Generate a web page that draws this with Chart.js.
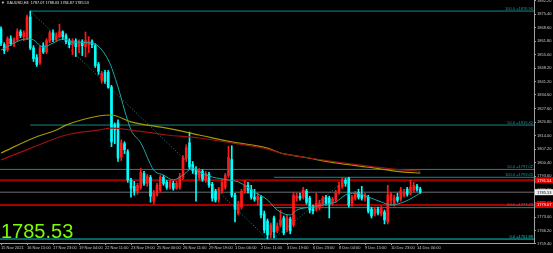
<!DOCTYPE html>
<html><head><meta charset="utf-8">
<script src="https://cdn.jsdelivr.net/npm/chart.js@4.4.0/dist/chart.umd.min.js"></script>
<style>html,body{margin:0;padding:0;background:#000;overflow:hidden}canvas{display:block}</style>
</head><body>
<canvas id="c" width="553" height="253"></canvas>
<script>
const symbolName = "XAUUSD,H4";
const opens = [1867.9,1860.0,1857.5,1863.0,1860.5,1862.5,1866.5,1864.0,1863.0,1874.0,
1858.3,1853.5,1851.0,1859.5,1856.3,1862.0,1866.0,1862.5,1864.0,1866.5,
1864.5,1862.0,1860.0,1862.0,1859.0,1861.5,1859.0,1860.0,1861.5,1859.5,
1850.0,1842.0,1846.0,1846.0,1838.6,1819.5,1820.5,1803.3,1810.0,1806.0,
1791.7,1788.5,1786.0,1788.0,1795.0,1790.0,1793.0,1781.0,1784.5,1786.5,
1793.0,1790.5,1788.0,1790.0,1787.5,1788.0,1793.0,1802.5,1810.4,1799.5,
1797.0,1793.0,1796.0,1791.5,1794.5,1789.5,1786.0,1782.0,1786.0,1788.0,
1794.0,1802.0,1784.0,1775.0,1778.0,1786.0,1789.0,1787.0,1783.0,1781.5,
1783.0,1774.5,1771.0,1764.0,1772.5,1766.0,1769.0,1772.5,1766.5,1772.0,
1769.0,1782.5,1783.5,1783.0,1786.0,1782.5,1777.0,1777.0,1777.5,1779.5,
1783.0,1782.5,1780.0,1781.5,1785.5,1788.5,1791.5,1792.5,1780.0,1782.5,
1785.5,1784.5,1782.5,1783.0,1777.0,1774.5,1777.0,1774.5,1775.5,1770.5,
1781.5,1779.5,1783.0,1782.0,1784.0,1787.0,1785.0,1786.5,1788.5,1787.07];
const highs = [1869.0,1861.0,1864.0,1864.5,1863.5,1868.0,1867.5,1867.0,1875.0,1876.96,
1859.5,1855.0,1859.5,1861.0,1863.0,1867.0,1867.5,1866.0,1870.4,1867.0,
1865.5,1863.0,1863.0,1863.0,1862.5,1862.5,1866.4,1864.0,1862.5,1860.5,
1851.0,1846.5,1847.0,1847.0,1839.5,1820.5,1822.0,1812.0,1811.0,1807.0,
1792.5,1791.0,1790.0,1797.5,1796.0,1794.5,1794.0,1786.5,1790.0,1794.0,
1794.0,1791.5,1791.5,1791.0,1791.0,1795.0,1804.0,1809.5,1815.9,1801.0,
1798.5,1797.5,1797.0,1796.0,1795.5,1790.5,1787.0,1788.0,1792.0,1795.0,
1808.8,1809.0,1785.0,1781.0,1787.0,1791.5,1790.5,1789.0,1787.0,1785.0,
1784.0,1776.0,1772.0,1770.0,1773.5,1770.0,1776.5,1773.5,1774.0,1773.0,
1785.5,1785.0,1785.0,1788.0,1787.0,1783.5,1779.0,1785.0,1781.5,1783.5,
1784.0,1783.5,1783.0,1786.5,1790.5,1793.0,1792.5,1793.05,1784.0,1786.0,
1787.0,1788.5,1785.0,1784.0,1778.0,1778.0,1778.0,1778.5,1776.5,1789.0,
1785.5,1784.0,1785.0,1788.0,1787.0,1788.0,1791.5,1790.5,1789.5,1788.03];
const lows = [1859.5,1855.5,1856.5,1859.5,1859.0,1861.5,1863.5,1862.0,1862.5,1857.5,
1851.5,1849.0,1850.0,1855.5,1855.5,1861.0,1861.5,1861.5,1863.5,1862.5,
1860.5,1858.5,1855.0,1854.0,1856.0,1854.5,1853.8,1856.0,1858.5,1848.5,
1845.0,1840.5,1840.5,1838.0,1808.5,1810.0,1801.0,1801.5,1805.0,1790.5,
1783.0,1784.0,1784.5,1787.0,1789.0,1788.5,1780.5,1779.5,1783.5,1785.5,
1789.0,1787.0,1787.0,1786.5,1787.0,1787.0,1792.0,1801.0,1797.0,1795.0,
1781.0,1792.0,1791.0,1790.5,1788.0,1781.0,1780.5,1780.5,1785.0,1787.0,
1793.0,1783.0,1770.5,1774.0,1777.0,1785.0,1785.0,1782.0,1781.0,1779.0,
1772.5,1765.0,1761.9,1762.5,1762.4,1765.0,1768.0,1764.0,1765.5,1764.5,
1768.0,1781.0,1781.5,1782.0,1779.5,1775.0,1774.5,1776.0,1776.5,1778.5,
1779.0,1772.5,1779.0,1780.5,1784.5,1787.5,1788.5,1778.0,1778.5,1781.5,
1782.0,1781.5,1781.0,1775.0,1772.5,1773.5,1774.0,1773.5,1769.5,1769.5,
1779.0,1778.5,1780.5,1781.0,1783.0,1783.5,1784.0,1785.5,1786.0,1784.87];
const closes = [1860.8,1857.0,1863.0,1860.5,1862.5,1866.5,1864.5,1866.0,1874.0,1858.3,
1853.0,1850.0,1858.5,1856.3,1862.0,1866.0,1862.5,1864.5,1866.5,1864.0,
1861.5,1860.0,1862.0,1859.0,1861.5,1859.5,1862.0,1861.5,1860.0,1849.5,
1846.5,1845.5,1841.5,1838.5,1810.9,1817.0,1802.8,1810.4,1807.0,1791.7,
1787.5,1786.0,1789.0,1795.5,1790.0,1793.5,1783.5,1785.0,1789.0,1793.0,
1790.0,1788.0,1790.5,1787.5,1790.0,1793.5,1802.8,1808.0,1798.2,1796.5,
1794.5,1796.5,1792.0,1795.0,1789.0,1782.5,1781.5,1787.0,1790.5,1794.0,
1803.0,1784.0,1777.0,1779.5,1786.0,1789.0,1786.5,1783.0,1782.0,1783.5,
1774.0,1766.5,1764.0,1769.0,1765.5,1768.5,1771.5,1765.0,1772.5,1766.0,
1784.0,1783.5,1782.5,1786.5,1780.5,1776.5,1776.0,1780.0,1780.0,1782.5,
1780.0,1779.5,1782.0,1785.0,1789.0,1791.5,1790.0,1779.0,1783.0,1785.0,
1783.0,1782.5,1784.0,1776.0,1773.5,1777.0,1775.0,1777.5,1771.5,1784.0,
1784.5,1782.5,1781.5,1786.5,1785.5,1784.5,1788.0,1789.0,1787.0,1785.53];

const xTickIdx = [0,8,16,24,32,40,48,56,64,72,80,88,96,104,112,120,128];
const xTickLabels = ["15 Nov 2021","16 Nov 15:00","17 Nov 23:00","19 Nov 04:00","22 Nov 11:00","23 Nov 19:00","25 Nov 00:00","26 Nov 11:00","29 Nov 19:00","1 Dec 00:00","2 Dec 11:00","3 Dec 19:00","6 Dec 23:00","8 Dec 04:00","9 Dec 15:00","10 Dec 23:00","14 Dec 00:00"];
const yTicks = [1882.20,1875.40,1868.60,1861.80,1855.00,1848.20,1841.20,1834.60,1827.60,1820.80,1814.00,1807.20,1800.40,1793.60,1786.80,1780.00,1773.00,1766.20,1759.40];

const maFastIdx = [0,8,10,13,16,19,22,28,33,36,38,40,43,47,50,53,56,59,61,65,70,73,78,82,85,89,91,95,99,103,106,109,113,117,120,124,127,129];
const maFastVal = [1857.3,1862.9,1862.4,1858.8,1860.8,1862.9,1861.3,1860.8,1852.3,1838.6,1827.0,1816.9,1810.4,1796.7,1794.2,1791.7,1794.2,1797.7,1795.7,1793.2,1791.7,1790.7,1785.6,1781.6,1776.5,1774.0,1776.5,1778.0,1779.1,1780.6,1784.1,1785.1,1783.1,1780.6,1779.1,1780.6,1783.1,1785.1];
const maSlowIdx = [0,10,17,20,30,34,40,51,61,71,82,86,93,103,113,124,129];
const maSlowVal = [1805.3,1812.9,1816.9,1819.4,1824.0,1824.5,1821.0,1817.9,1814.4,1810.9,1807.8,1805.3,1803.3,1800.3,1798.2,1795.7,1795.2];
const maLongIdx = [0,10,20,30,34,40,51,61,71,82,86,93,103,113,124,129];
const maLongVal = [1801.8,1808.3,1814.4,1816.9,1817.9,1816.9,1814.4,1812.9,1810.4,1807.3,1805.3,1803.3,1800.8,1798.7,1796.7,1796.2];

const fibNames  = ["100.0","50.0","50.0","100.0","50.0","0.0"];
const fibValues = [1876.96,1819.42,1797.02,1793.05,1777.73,1761.88];
const fibStartIdx = [9,9,-1,84,84,-1];
const trendFromIdx = [9,84];
const trendFromVal = [1876.96,1762.4];
const trendToIdx = [82,107];
const trendToVal = [1761.9,1793.05];
const alertLevels = [1791.54,1779.07];

const X_MIN = -0.31, X_MAX = 164;
const Y_MIN = 1759.88, Y_MAX = 1882.55;
const BEAR = '#00FFFF', BULL = '#FF1A1A';
const FONT = '"Liberation Sans", Arial, sans-serif';

const idx = opens.map((_, i) => i);
const colors = idx.map(i => closes[i] < opens[i] ? BEAR : BULL);
const lastClose = closes[closes.length - 1];

function hline(v, start, color, width) {
  return {type:'line', data:[{x:start, y:v},{x:X_MAX, y:v}], borderColor:color, borderWidth:width,
    pointRadius:0, order:6, clip:false};
}
const datasets = [];
fibValues.forEach((v,k) => {
  datasets.push(hline(v, Math.max(fibStartIdx[k], X_MIN), k === 5 ? '#00CCCC' : '#148888', 1));
});
alertLevels.forEach(v => datasets.push(hline(v, X_MIN, '#A80000', 2)));
datasets.push(hline(lastClose, X_MIN, '#6E6E6E', 1));
trendFromIdx.forEach((s,k) => {
  datasets.push({type:'line', data:[{x:s, y:trendFromVal[k]},{x:trendToIdx[k], y:trendToVal[k]}],
    borderColor:'#1A9090', borderWidth:1, borderDash:[1,2], pointRadius:0, order:6});
});
datasets.push({type:'bar', data: idx.map(i => ({x:i, y:[lows[i], highs[i]]})),
  backgroundColor: colors, barThickness:1, grouped:false, borderWidth:0, order:3});
datasets.push({type:'bar', data: idx.map(i => ({x:i, y:[opens[i], closes[i]]})),
  backgroundColor: colors, barThickness:2, grouped:false, borderWidth:0, minBarLength:1, order:2});
datasets.push({type:'line', data: maLongIdx.map((x,k)=>({x, y:maLongVal[k]})), borderColor:'#9A1212',
  borderWidth:1.2, pointRadius:0, cubicInterpolationMode:'monotone', order:1});
datasets.push({type:'line', data: maSlowIdx.map((x,k)=>({x, y:maSlowVal[k]})), borderColor:'#A49A00',
  borderWidth:1.2, pointRadius:0, cubicInterpolationMode:'monotone', order:1});
datasets.push({type:'line', data: maFastIdx.map((x,k)=>({x, y:maFastVal[k]})), borderColor:'#1AA6A6',
  borderWidth:1, pointRadius:0, cubicInterpolationMode:'monotone', order:1});

const overlay = {
  id:'overlay',
  beforeDraw(chart) {
    const c = chart.ctx; c.save(); c.fillStyle = '#000'; c.fillRect(0,0,chart.width,chart.height); c.restore();
  },
  afterDraw(chart) {
    const c = chart.ctx, ys = chart.scales.y, a = chart.chartArea;
    c.save();
    // fib labels
    c.font = '4px ' + FONT; c.textAlign = 'right'; c.textBaseline = 'bottom';
    fibValues.forEach((v,k) => {
      c.fillStyle = k === 5 ? '#00CCCC' : '#1A9A9A';
      c.fillText(fibNames[k] + ' =' + v.toFixed(2), a.right - 1, ys.getPixelForValue(v) - 0.5);
    });
    // axis boxes
    c.textAlign = 'left'; c.textBaseline = 'middle';
    const box = (v, bg, fg) => {
      const y = ys.getPixelForValue(v);
      c.fillStyle = bg; c.fillRect(a.right + 1, y - 3, chart.width - a.right - 1, 6);
      c.fillStyle = fg; c.fillText(v.toFixed(2), a.right + 3, y + 0.3);
    };
    alertLevels.forEach(v => box(v, '#E00000', '#FFFFFF'));
    box(lastClose, '#F0F0F0', '#000000');
    // header
    c.textBaseline = 'top'; c.fillStyle = '#E0E0E0'; c.font = '3.8px ' + FONT;
    c.fillText('\u25BC  ' + symbolName + '  ' + opens[opens.length-1].toFixed(2) + ' ' + highs[highs.length-1].toFixed(2) + ' ' + lows[lows.length-1].toFixed(2) + ' ' + lastClose.toFixed(2), 1, 1);
    // big price
    c.textBaseline = 'alphabetic'; c.fillStyle = '#7CFC00'; c.font = '20px ' + FONT;
    c.fillText(lastClose.toFixed(2), 1, 238);
    c.restore();
  }
};

new Chart(document.getElementById('c').getContext('2d'), {
  type:'bar',
  data:{datasets},
  options:{
    responsive:false, animation:false, devicePixelRatio:1,
    layout:{padding:0},
    plugins:{legend:{display:false}, tooltip:{enabled:false}},
    scales:{
      x:{type:'linear', min:X_MIN, max:X_MAX, offset:false,
        afterFit:s=>{s.height=10; s.paddingLeft=0; s.paddingRight=0;},
        afterBuildTicks:s=>{s.ticks = xTickIdx.map(v=>({value:v}));},
        ticks:{autoSkip:false, maxRotation:0, minRotation:0, align:'start', padding:0, color:'#C8C8C8',
          font:{family:FONT, size:4}, callback:v=>{const k=xTickIdx.indexOf(v); return k<0?'':xTickLabels[k];}},
        grid:{display:true, drawOnChartArea:false, drawTicks:true, tickLength:2, color:'#A0A0A0', offset:false},
        border:{display:true, color:'#A0A0A0'}
      },
      y:{type:'linear', position:'right', min:Y_MIN, max:Y_MAX, beginAtZero:false,
        afterFit:s=>{s.width=19; s.paddingTop=0; s.paddingBottom=0;},
        afterBuildTicks:s=>{s.ticks = yTicks.map(v=>({value:v}));},
        ticks:{padding:1, color:'#C8C8C8', font:{family:FONT, size:4}, callback:v=>Number(v).toFixed(2)},
        grid:{display:true, drawOnChartArea:false, drawTicks:true, tickLength:2, color:'#A0A0A0'},
        border:{display:true, color:'#A0A0A0'}
      }
    }
  },
  plugins:[overlay]
});
</script>
</body></html>
